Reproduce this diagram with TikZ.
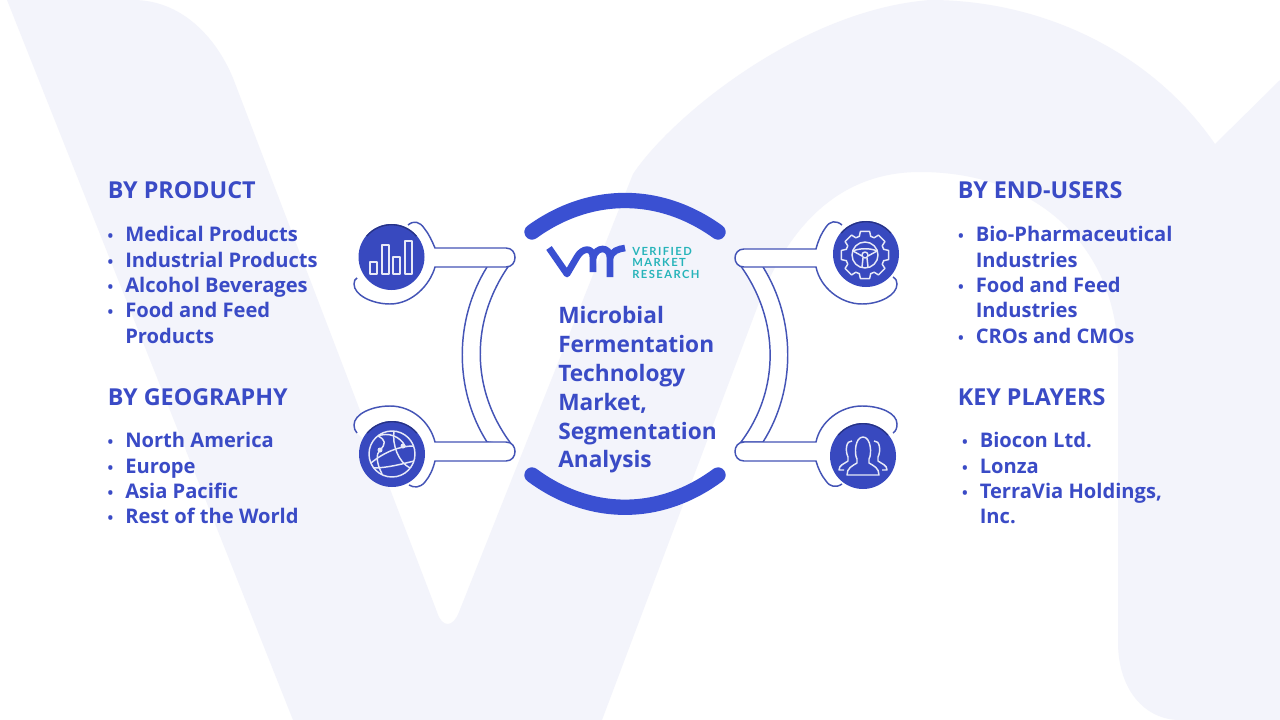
\documentclass[tikz,border=0pt]{standalone}
\usepackage{fontspec}
\setmainfont{Open Sans}
\newfontfamily\logofont[LetterSpace=13]{Lato}
\definecolor{wash}{HTML}{F3F4FB}
\definecolor{inkblue}{HTML}{3A4BC6}
\definecolor{arcblue}{HTML}{3A50D2}
\definecolor{ballblue}{HTML}{3849BF}
\definecolor{tubeblue}{HTML}{4454B6}
\definecolor{logoteal}{HTML}{27B4BA}
\newcommand{\bul}{\leavevmode\llap{\scalebox{0.75}{\textbullet}\hspace{0.6em}}}
\tikzset{
	heading/.style={anchor=north west,inner sep=0,text=inkblue,font=\fontsize{17.5}{21}\selectfont\bfseries},
	itemlist/.style={anchor=north west,inner sep=0,align=left,text=inkblue,font=\fontsize{15.1}{19.1}\selectfont\bfseries},
	tube/.style={draw=tubeblue,fill=white,line width=1.1pt},
	ball/.style={circle,fill=ballblue,minimum size=49.5pt,inner sep=0},
	ballshade/.style={draw=ballblue!70!black,line width=1pt},
	icon/.style={draw=white!88!ballblue,line width=1.1pt,line join=round}
}
\begin{document}
\begin{tikzpicture}[x=0.75pt,y=-0.75pt]
\useasboundingbox (0,0) rectangle (1280,720);
\fill[white] (0,0) rectangle (1280,720);
% background letters
\fill[wash] (7,0) -- (133,0) .. controls (180,0) and (215,35) .. (233,78)
	-- (437,612) .. controls (442,628) and (453,628) .. (459,612)
	-- (633,174) .. controls (670,118) and (800,10) .. (930,0)
	.. controls (1040,0) and (1150,50) .. (1215,144) -- (1280,80) -- (1280,720)
	-- (1180,720) .. controls (1145,720) and (1118,690) .. (1118,642)
	-- (1118,358) .. controls (1118,250) and (1040,172) .. (920,172)
	.. controls (840,172) and (790,225) .. (760,300) -- (602,720) -- (293,720) -- cycle;
% side bands
\draw[tube] (487,267) .. controls (454,320) and (454,390) .. (487,442) -- (512,445)
	.. controls (470,390) and (470,320) .. (510,264);
\draw[tube] (763,267) .. controls (796,320) and (796,390) .. (763,442) -- (741,442)
	.. controls (780,390) and (780,320) .. (740,265);
% tubes round the icons
\draw[tube] (408,225) .. controls (414,220) and (420,222) .. (424,228) .. controls (429,234) and (432,241) .. (435,248)
	-- (506,248) .. controls (518,248) and (518,267) .. (506,267) -- (435,267)
	.. controls (430,285) and (412,304) .. (390,304) .. controls (372,304) and (354,295) .. (354,284)
	.. controls (354,281) and (355,279) .. (357,278);
\draw[tube] (409,485) .. controls (414,488) and (420,488) .. (425,482) .. controls (430,476) and (433,469) .. (435,461)
	-- (506,461) .. controls (518,461) and (518,442) .. (506,442) -- (435,442)
	.. controls (430,422) and (412,406) .. (390,406) .. controls (372,406) and (354,414) .. (354,425)
	.. controls (354,428) and (355,431) .. (357,433);
\draw[tube] (842,225) .. controls (836,220) and (830,221) .. (826,227) .. controls (821,234) and (818,241) .. (816,249)
	-- (744,249) .. controls (732,249) and (732,267) .. (744,267) -- (816,267)
	.. controls (820,287) and (840,304) .. (862,304) .. controls (880,304) and (897,295) .. (897,284)
	.. controls (897,281) and (896,279) .. (893,277);
\draw[tube] (842,484) .. controls (836,488) and (830,487) .. (826,481) .. controls (821,475) and (818,468) .. (816,461)
	-- (744,461) .. controls (732,461) and (732,442) .. (744,442) -- (816,442)
	.. controls (820,422) and (840,406) .. (862,406) .. controls (880,406) and (897,413) .. (897,424)
	.. controls (897,428) and (896,431) .. (893,433);
% centre arcs
\draw[arcblue,line width=11.5pt,line cap=round] (532,232) .. controls (590,190) and (660,190) .. (718,232);
\draw[arcblue,line width=11.5pt,line cap=round] (532,475) .. controls (590,518) and (660,518) .. (718,475);
% icon balls
\node[ball] (product) at (391.5,257) {};
\node[ball] (geography) at (392,454) {};
\node[ball] (endusers) at (866,254) {};
\node[ball] (players) at (863,456) {};
\foreach \b in {product,geography,endusers,players}
	\draw[ballshade] ([shift={(-18.6pt,15.6pt)}]\b.center) .. controls ([shift={(-8.9pt,27.1pt)}]\b.center) and ([shift={(8.9pt,27.1pt)}]\b.center) .. ([shift={(18.6pt,15.6pt)}]\b.center);
% bars
\foreach \x/\w/\t in {370/7/262,382/7/245,393/7/257,405/7/241}
	\draw[icon] (\x,\t) rectangle (\x+\w,274);
% globe
\begin{scope}[shift={(392,454)}]
\draw[icon] (0,0) circle (23);
\draw[icon] (-21,9) .. controls (-8,-2) and (8,-8) .. (21,-8);
\draw[icon] (-19,14) .. controls (-5,14) and (10,10) .. (22,7);
\draw[icon] (-14,-18) .. controls (-6,-14) and (-6,-10) .. (-12,-4) .. controls (-16,0) and (-16,8) .. (-10,20);
\draw[icon] (2,-23) .. controls (0,-10) and (6,8) .. (18,14);
\draw[icon] (-14,-18) .. controls (-4,-22) and (8,-18) .. (13,-8);
\fill[white!88!ballblue] (-12,-4) circle (2.5) (11,-8) circle (2.5);
\end{scope}
% gear
\begin{scope}[shift={(865,255)}]
\draw[icon] (11:24) \foreach \a in {0,45,...,315} {
	-- (\a+11:24) -- (\a+17:19.5) -- (\a+28:19.5) -- (\a+34:24) } -- cycle;
\draw[icon] (0,0) circle (13) (0,0) circle (3);
\draw[icon] (-12,-4) .. controls (-6,-7) and (6,-7) .. (12,-4);
\draw[icon] (-12,-4) -- (-3,1) (12,-4) -- (3,1) (-2,3) -- (-3,12) (2,3) -- (3,12);
\end{scope}
% people
\begin{scope}[shift={(863,456)}]
\draw[icon] (-16,19) -- (16,19) .. controls (16,12) and (11,10) .. (6,7) -- (6,3)
	.. controls (9,-2) and (8,-19) .. (0,-19) .. controls (-8,-19) and (-9,-2) .. (-6,3) -- (-6,7)
	.. controls (-11,10) and (-16,12) .. (-16,19) -- cycle;
\foreach \s in {-1,1}
	\draw[icon,xscale=\s] (11,-15) .. controls (17,-16) and (18,-5) .. (15,1) -- (15,5)
		.. controls (19,8) and (24,9) .. (24,14) -- (19,14);
\end{scope}
% logo
\draw[arcblue,line width=5pt,line join=round] (549,248) -- (567,274) -- (577,257)
	.. controls (582,248) and (593,246) .. (593,258) -- (593,272);
\draw[arcblue,line width=5pt] (593,258) .. controls (596,246) and (610,246) .. (610,258) -- (610,277);
\draw[arcblue,line width=5pt] (610,258) .. controls (612,251) and (618,249) .. (625,248);
\node[anchor=north west,inner sep=0,align=left,text=logoteal,font=\fontsize{8.4}{8.7}\selectfont\bfseries] (logotext) at (632,247) {\logofont VERIFIED\\\logofont MARKET\\\logofont RESEARCH};
% texts
\node[anchor=north west,inner sep=0,align=left,text=inkblue,font=\fontsize{17}{21.6}\selectfont\bfseries] (title) at (558,306.5)
	{Microbial\\Fermentation\\Technology\\Market,\\Segmentation\\Analysis};
\node[heading] (bypro) at (107.5,181.5) {BY PRODUCT};
\node[itemlist] (prolist) at (125,226) {\bul Medical Products\\\bul Industrial Products\\\bul Alcohol Beverages\\\bul Food and Feed\\Products};
\node[heading] (bygeo) at (107.5,388.5) {BY GEOGRAPHY};
\node[itemlist] (geolist) at (125,432) {\bul North America\\\bul Europe\\\bul Asia Pacific\\\bul Rest of the World};
\node[heading] (byend) at (957.5,181.5) {BY END-USERS};
\node[itemlist] (endlist) at (975.5,226) {\bul Bio-Pharmaceutical\\Industries\\\bul Food and Feed\\Industries\\\bul CROs and CMOs};
\node[heading] (keypl) at (957.5,388.5) {KEY PLAYERS};
\node[itemlist] (keylist) at (979.5,432) {\bul Biocon Ltd.\\\bul Lonza\\\bul TerraVia Holdings,\\Inc.};
\end{tikzpicture}
\end{document}
